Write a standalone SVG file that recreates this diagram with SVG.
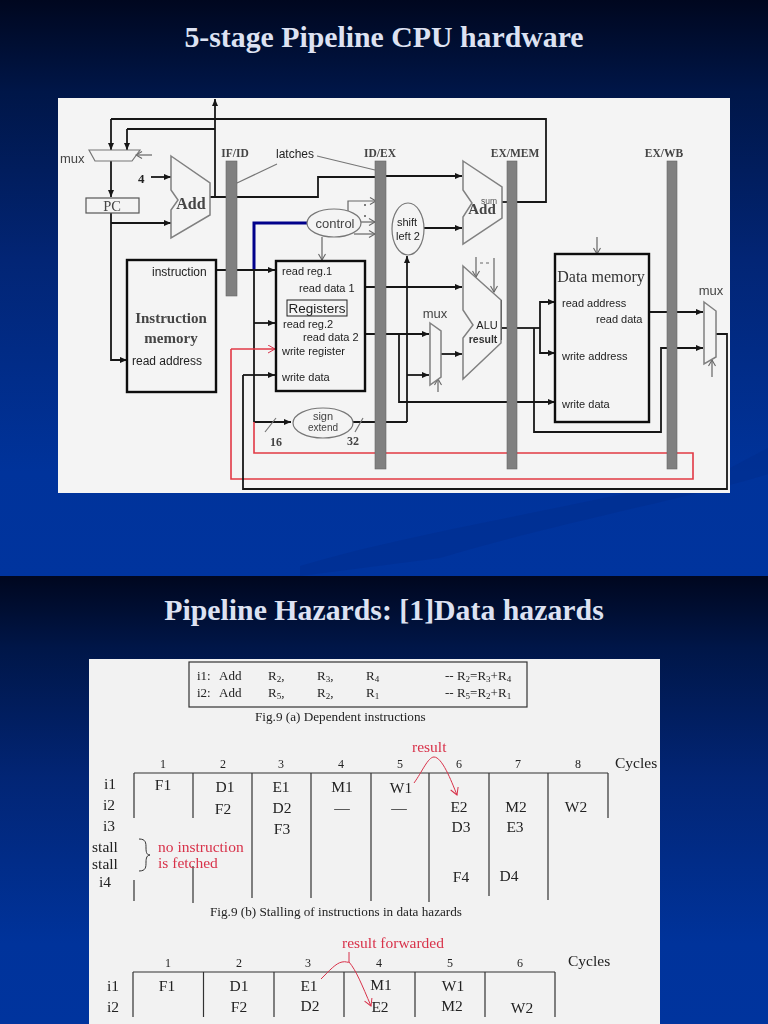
<svg xmlns="http://www.w3.org/2000/svg" width="768" height="1024" viewBox="0 0 768 1024">
<style>
.sans{font-family:"Liberation Sans",Arial,sans-serif;fill:#222}
.ser{font-family:"Liberation Serif","Times New Roman",serif;fill:#222}
.s11{font-size:11px}.s12{font-size:12px}.s13{font-size:13px}.s14{font-size:15.500px}
.mid{text-anchor:middle}
.head{font-family:"Liberation Serif","Times New Roman",serif;font-weight:bold;font-size:29.800px;fill:#dde2f2;text-anchor:middle}
.latch{font-family:"Liberation Serif",serif;font-weight:bold;font-size:11.500px;fill:#444;text-anchor:middle}
.bar{fill:#808080;stroke:#666;stroke-width:.6}
.w{fill:none;stroke:#151515;stroke-width:1.8}
.wa{fill:none;stroke:#151515;stroke-width:1.8;marker-end:url(#a)}
.g{fill:none;stroke:#777;stroke-width:1.2}
.ga{fill:none;stroke:#666;stroke-width:1.2;marker-end:url(#ag)}
.alu{fill:#f4f4f4;stroke:#808080;stroke-width:1.5}
.box{fill:#f4f4f4;stroke:#111;stroke-width:2.4}
.red{fill:none;stroke:#e23a46;stroke-width:1.6}
.rl{fill:none;stroke:#d8324a;stroke-width:1}
.rt{font-family:"Liberation Serif",serif;font-size:15.500px;fill:#d8324a}
.t{stroke:#333;stroke-width:1.2;fill:none}
</style>
<defs>
<linearGradient id="bg" x1="0" y1="0" x2="0" y2="1"><stop offset="0" stop-color="#00071f"/><stop offset=".16" stop-color="#001648"/><stop offset=".45" stop-color="#022575"/><stop offset=".82" stop-color="#00339b"/><stop offset="1" stop-color="#00349e"/></linearGradient>
<marker id="a" markerWidth="8" markerHeight="7" refX="7" refY="3.500" orient="auto" markerUnits="userSpaceOnUse"><path d="M0 .5L7 3.500L0 6.500z" fill="#151515"/></marker>
<marker id="ag" markerWidth="8" markerHeight="8" refX="7" refY="4" orient="auto" markerUnits="userSpaceOnUse"><path d="M1 .5L7 4L1 7.500" fill="none" stroke="#666" stroke-width="1.1"/></marker>
<marker id="ar" markerWidth="9" markerHeight="9" refX="8" refY="4.500" orient="auto" markerUnits="userSpaceOnUse"><path d="M1 .5L8 4.500L1 8.500" fill="none" stroke="#d8324a" stroke-width="1"/></marker>
<filter id="soft" x="-2%" y="-2%" width="104%" height="104%"><feGaussianBlur stdDeviation=".45"/></filter>
</defs>
<rect x="0" y="0" width="768" height="576" fill="url(#bg)"/>
<path d="M768 448V474C700 496 560 522 440 558L300 576V566C420 530 600 504 730 468Z" fill="#002c8c" opacity=".45"/>
<rect x="0" y="576" width="768" height="448" fill="url(#bg)"/>
<text class="head" x="384" y="47">5-stage Pipeline CPU hardware</text>
<text class="head" x="384" y="620">Pipeline Hazards: [1]Data hazards</text>

<rect x="58" y="98" width="672" height="395" fill="#f4f4f4"/>
<g filter="url(#soft)">
<g id="connectors">
<path class="wa" d="M111 119V150"/>
<path class="w" d="M111 119H546V202H517"/>
<path class="wa" d="M127 129V150"/>
<path class="w" d="M127 129H215"/>
<path class="wa" d="M215 197V99"/>
<path class="ga" d="M152 155H136"/>
<path class="wa" d="M111 161V197"/>
<path class="wa" d="M111 213V360H127"/>
<path class="wa" d="M111 223H171"/>
<path class="wa" d="M151 177H171"/>
<path class="w" d="M210 197H318V177H375"/>
<path class="wa" d="M386 176H462"/>
<path class="w" d="M502 202H507"/>
<path d="M307 223H254V270" fill="none" stroke="#00008b" stroke-width="3"/>
<path class="wa" d="M216 270H275"/>
<path class="w" d="M254 270V422"/>
<path class="wa" d="M254 323H275"/>
<path class="wa" d="M254 422H291"/>
<path class="red" d="M254 422V453H693V479H231V349"/>
<path class="red" d="M231 349H275" marker-end="url(#ar)"/>
<path class="wa" d="M243 375H275"/>
<path class="w" d="M243 375V489H727V334H716"/>
<path class="ga" d="M348 222V201H376"/>
<path class="ga" d="M361 222H375"/>
<path class="ga" d="M354 234H375"/>
<path class="ga" d="M322 237V260"/>
<path class="wa" d="M365 287H462"/>
<path class="wa" d="M365 334H429"/>
<path class="w" d="M399 334V402H507"/>
<path class="wa" d="M517 402H555"/>
<path class="w" d="M353 422H407"/>
<path class="wa" d="M407 422V256"/>
<path class="wa" d="M407 375H429"/>
<path class="wa" d="M424 228H462"/>
<path class="wa" d="M441 354H462"/>
<path class="ga" d="M438 392V379"/>
<path d="M501 300V340" fill="none" stroke="#151515" stroke-width="2"/>
<path class="w" d="M501 328H507"/>
<path class="w" d="M517 328H540"/>
<path class="wa" d="M540 328V302H555"/>
<path class="wa" d="M540 328V353H555"/>
<path class="wa" d="M534 328V432H661V348H703"/>
<path class="wa" d="M649 312H703"/>
<path class="ga" d="M476 257V277"/>
<path class="ga" d="M494 258V292"/>
<path d="M480 263H492" fill="none" stroke="#666" stroke-dasharray="3 3"/>
<path class="ga" d="M597 237V254"/>
<path class="ga" d="M712 377V360"/>
<path class="g" d="M317 156L375 170M277 164L237 183"/>
<path class="g" d="M265 432L276 418M355 432L363 418"/>
</g>
<g id="if-id"><rect class="bar" x="226" y="161" width="11" height="135"/><text class="latch" x="235" y="157">IF/ID</text></g>
<g id="id-ex"><rect class="bar" x="375" y="161" width="11" height="308"/><text class="latch" x="380" y="157">ID/EX</text></g>
<g id="ex-mem"><rect class="bar" x="507" y="161" width="10" height="308"/><text class="latch" x="515" y="157">EX/MEM</text></g>
<g id="ex-wb"><rect class="bar" x="667" y="161" width="10" height="308"/><text class="latch" x="664" y="157">EX/WB</text></g>
<g id="latches"><text class="sans s12" x="276" y="158">latches</text></g>
<g id="mux-pc"><path class="g" d="M89 150H140L132 161H95Z"/><text class="sans s13" x="60" y="163" style="fill:#444">mux</text></g>
<g id="pc"><rect x="86" y="198" width="53" height="15" fill="#f4f4f4" stroke="#555" stroke-width="1.2"/><text class="ser mid" x="112" y="211" style="font-size:14.500px;fill:#444">PC</text></g>
<g id="add-pc"><path class="alu" d="M171 156L210 183V215L171 238V210L178 200L171 190Z"/><text class="ser mid" x="191" y="209" style="font-size:16px;font-weight:bold;fill:#444">Add</text><text class="ser" x="138" y="183" style="font-size:13px;font-weight:bold">4</text></g>
<g id="instruction-memory"><rect class="box" x="127" y="260" width="89" height="132"/>
<text class="sans s12" x="152" y="276">instruction</text>
<text class="ser mid" x="171" y="323" style="font-size:15px;font-weight:bold;fill:#444">Instruction</text>
<text class="ser mid" x="171" y="343" style="font-size:15px;font-weight:bold;fill:#444">memory</text>
<text class="sans s12" x="132" y="365">read address</text></g>
<g id="registers"><rect class="box" x="276" y="261" width="89" height="130"/>
<text class="sans s11" x="282" y="275">read reg.1</text>
<text class="sans s11" x="299" y="292">read data 1</text>
<rect x="287" y="300" width="60" height="16" fill="none" stroke="#222"/>
<text class="sans mid" x="317" y="312.500" style="font-size:13.500px">Registers</text>
<text class="sans s11" x="283" y="328">read reg.2</text>
<text class="sans s11" x="303" y="341">read data 2</text>
<text class="sans s11" x="282" y="355">write register</text>
<text class="sans s11" x="282" y="381">write data</text></g>
<g id="control"><ellipse class="g" cx="334" cy="223" rx="27" ry="14" style="fill:#f4f4f4"/><text class="sans s13 mid" x="335" y="228" style="fill:#444">control</text>
<circle cx="365" cy="205" r="1" fill="#555"/><circle cx="365" cy="216" r="1" fill="#555"/></g>
<g id="sign-extend"><ellipse class="g" cx="323" cy="423" rx="30" ry="15" style="fill:#f4f4f4"/><text class="sans s11 mid" x="323" y="420" style="fill:#444">sign</text><text class="sans mid" x="323" y="431" style="font-size:10px;fill:#444">extend</text>
<text class="ser s12 mid" x="276" y="446" style="font-weight:bold;fill:#444">16</text><text class="ser s12 mid" x="353" y="445" style="font-weight:bold;fill:#444">32</text></g>
<g id="shift-left"><ellipse class="g" cx="408" cy="229" rx="16" ry="26" style="fill:#f4f4f4"/><text class="sans s11 mid" x="407" y="226">shift</text><text class="sans s11 mid" x="408" y="240">left 2</text></g>
<g id="add-branch"><path class="alu" d="M463 161L502 187V218L463 244V217L472 203L463 190Z"/><text class="sans mid" x="489" y="204" style="font-size:8.500px;fill:#555">sum</text><text class="ser mid" x="482" y="214" style="font-size:15px;fill:#444;font-weight:bold">Add</text></g>
<g id="alu"><path class="alu" d="M463 266L501 300V343L463 379V338L473 325L463 310Z"/><text class="sans s11 mid" x="487" y="329">ALU</text><text class="sans mid" x="483" y="343" style="font-size:10.500px;font-weight:bold;fill:#333">result</text></g>
<g id="mux-alu"><path class="alu" d="M430 323L441 331V377L430 385Z"/><text class="sans s13 mid" x="435" y="318" style="fill:#444">mux</text></g>
<g id="data-memory"><rect class="box" x="555" y="254" width="94" height="168"/>
<text class="ser mid" x="601" y="282" style="font-size:16px;fill:#333">Data memory</text>
<text class="sans s11" x="562" y="307">read address</text>
<text class="sans s11" x="596" y="323">read data</text>
<text class="sans s11" x="562" y="360">write address</text>
<text class="sans s11" x="562" y="408">write data</text></g>
<g id="mux-wb"><path class="alu" d="M704 302L716 311V357L704 364Z"/><text class="sans s13 mid" x="711" y="295" style="fill:#444">mux</text></g>
</g>

<rect x="89" y="659" width="571" height="365" fill="#f2f2f2"/>
<g filter="url(#soft)">
<g id="instructions"><rect x="189" y="662" width="338" height="45" fill="none" stroke="#333" stroke-width="1.2"/>
<text class="ser s13" x="197" y="680">i1:</text><text class="ser s13" x="219" y="680">Add</text>
<text class="ser s13" x="268" y="680">R<tspan font-size="9" dy="2">2</tspan><tspan dy="-2">,</tspan></text>
<text class="ser s13" x="317" y="680">R<tspan font-size="9" dy="2">3</tspan><tspan dy="-2">,</tspan></text>
<text class="ser s13" x="366" y="680">R<tspan font-size="9" dy="2">4</tspan></text>
<text class="ser s13" x="445" y="680">-- R<tspan font-size="9" dy="2">2</tspan><tspan dy="-2">=R</tspan><tspan font-size="9" dy="2">3</tspan><tspan dy="-2">+R</tspan><tspan font-size="9" dy="2">4</tspan></text>
<text class="ser s13" x="197" y="697">i2:</text><text class="ser s13" x="219" y="697">Add</text>
<text class="ser s13" x="268" y="697">R<tspan font-size="9" dy="2">5</tspan><tspan dy="-2">,</tspan></text>
<text class="ser s13" x="317" y="697">R<tspan font-size="9" dy="2">2</tspan><tspan dy="-2">,</tspan></text>
<text class="ser s13" x="366" y="697">R<tspan font-size="9" dy="2">1</tspan></text>
<text class="ser s13" x="445" y="697">-- R<tspan font-size="9" dy="2">5</tspan><tspan dy="-2">=R</tspan><tspan font-size="9" dy="2">2</tspan><tspan dy="-2">+R</tspan><tspan font-size="9" dy="2">1</tspan></text>
<text class="ser" x="255" y="721" style="font-size:13.200px">Fig.9 (a) Dependent instructions</text></g>
<g id="table-stall">
<path class="t" d="M134 773H608M134 773V818M134 880V901M193 773V818M193 866V903M252 773V898M311 773V898M371 773V901M429 773V902M489 773V896M548 773V900M608 773V818"/>
<g class="ser s12 mid"><text x="163" y="768">1</text><text x="223" y="768">2</text><text x="281" y="768">3</text><text x="341" y="768">4</text><text x="400" y="768">5</text><text x="459" y="768">6</text><text x="518" y="768">7</text><text x="578" y="768">8</text></g>
<text class="ser s14" x="615" y="768">Cycles</text>
<g class="ser s14 mid"><text x="110" y="789">i1</text><text x="109" y="810">i2</text><text x="109" y="831">i3</text><text x="105" y="852">stall</text><text x="105" y="869">stall</text><text x="105" y="887">i4</text>
<text x="163" y="790">F1</text><text x="225" y="792">D1</text><text x="281" y="792">E1</text><text x="342" y="792">M1</text><text x="401" y="793">W1</text>
<text x="223" y="814">F2</text><text x="282" y="813">D2</text><text x="342" y="813">—</text><text x="399" y="813">—</text><text x="459" y="812">E2</text><text x="516" y="812">M2</text><text x="576" y="812">W2</text>
<text x="282" y="834">F3</text><text x="461" y="832">D3</text><text x="515" y="832">E3</text><text x="461" y="882">F4</text><text x="509" y="881">D4</text></g>
<text class="rt" x="412" y="752">result</text>
<path class="rl" d="M414 783C422 772 428 757 434 757C442 757 451 780 457 795" marker-end="url(#ar)"/>
<text class="rt" x="158" y="852">no instruction</text><text class="rt" x="158" y="868">is fetched</text>
<path d="M139 839C146 839 146 843 146 848C146 853 147 855 150 855C147 855 146 858 146 862C146 867 146 871 139 871" fill="none" stroke="#333"/>
<text class="ser" x="210" y="916" style="font-size:13.200px">Fig.9 (b) Stalling of instructions in data hazards</text></g>
<g id="table-forward">
<path class="t" d="M133 972H555M133 972V1017M203.500 972V1017M274 972V1017M344 972V1017M415 972V1017M485 972V1017M555 972V1017"/>
<g class="ser s12 mid"><text x="168" y="967">1</text><text x="239" y="967">2</text><text x="308" y="967">3</text><text x="379" y="967">4</text><text x="450" y="967">5</text><text x="520" y="967">6</text></g>
<text class="ser s14" x="568" y="966">Cycles</text>
<g class="ser s14 mid"><text x="113" y="991">i1</text><text x="113" y="1012">i2</text>
<text x="167" y="991">F1</text><text x="239" y="991">D1</text><text x="309" y="991">E1</text><text x="381" y="990">M1</text><text x="453" y="991">W1</text>
<text x="239" y="1012">F2</text><text x="310" y="1011">D2</text><text x="380" y="1012">E2</text><text x="452" y="1011">M2</text><text x="522" y="1013">W2</text></g>
<text class="rt" x="342" y="948">result forwarded</text>
<path class="rl" d="M321 979C329 971 336 963 342 962C346 961 348 963 349 962V952M349 962C356 970 362 985 371 1006" marker-end="url(#ar)"/>
</g>
</g>
</svg>
